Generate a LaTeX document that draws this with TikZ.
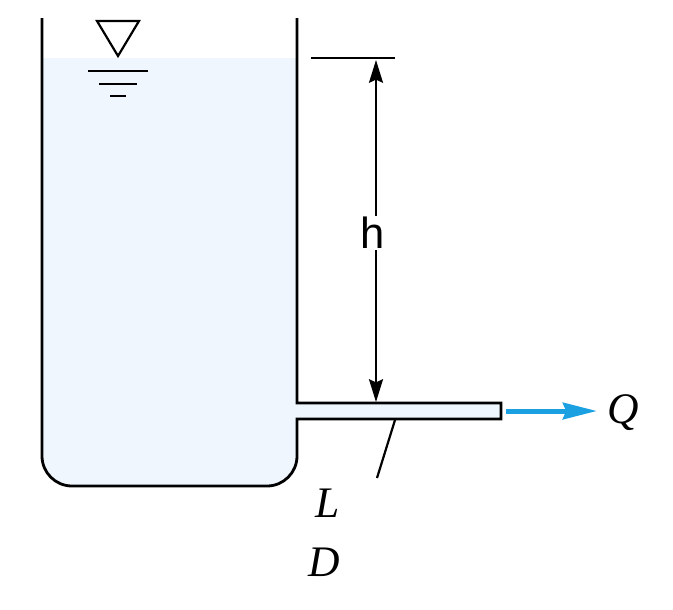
\documentclass[tikz,border=0pt]{standalone}
\usepackage{fontspec}
\setmainfont{Liberation Serif}
\setsansfont{Liberation Sans}
\usetikzlibrary{arrows.meta}

\definecolor{waterfill}{HTML}{EFF6FD}
\definecolor{flowblue}{HTML}{1BA1E2}

\tikzset{
	wall/.style = {line width=0.7mm, line join=miter},
	thin line/.style = {line width=0.55mm},
	dim arrow/.style = {line width=0.5mm, {Stealth[length=5.7mm, width=3.5mm, inset=0.8mm]}-{Stealth[length=5.7mm, width=3.5mm, inset=0.8mm]}},
	flow arrow/.style = {draw=flowblue, line width=1.25mm, -{Stealth[length=8.5mm, width=4.1mm, inset=0.8mm]}},
	var label/.style = {font=\fontsize{31}{31}\selectfont\itshape, inner sep=0pt}
}

\begin{document}
\begin{tikzpicture}[x=0.25mm, y=-0.25mm]
		\useasboundingbox (0, 0) rectangle (673, 609);
		
		% water
		\fill[waterfill] (42, 58) -- (42, 456) arc[start angle=180, end angle=90, radius=30] -- (267, 486) arc[start angle=90, end angle=0, radius=30] -- (297, 419) -- (501, 419) -- (501, 403) -- (297, 403) -- (297, 58) -- cycle;
		
		% tank and pipe
		\draw[wall] (42, 18) -- (42, 456) arc[start angle=180, end angle=90, radius=30] -- (267, 486) arc[start angle=90, end angle=0, radius=30] -- (297, 419) -- (501, 419) -- (501, 403) -- (297, 403) -- (297, 18);
		
		% free surface
		\draw[thin line, line join=miter] (97, 21) -- (139, 21) -- (118, 56) -- cycle;
		\draw[thin line] (88, 71) -- (148, 71);
		\draw[thin line] (99, 84) -- (137, 84);
		\draw[thin line] (110, 96) -- (126, 96);
		
		% head
		\coordinate (surfl) at (311, 58);
		\coordinate (surfr) at (395, 58);
		\coordinate (headtop) at (376, 60);
		\coordinate (headbot) at (376, 402);
		\draw[thin line] (surfl) -- (surfr);
		\draw[dim arrow] (headtop) -- (headbot);
		\node[fill=white, inner sep=1pt, font=\fontsize{31}{31}\selectfont\sffamily] (h) at (373, 233) {h};
		
		% pipe label
		\coordinate (pipemark) at (395, 420);
		\coordinate (markend) at (377, 478);
		\draw[thin line] (pipemark) -- (markend);
		\node[var label] (L) at (328, 503) {L};
		\node[var label] (D) at (324, 562) {D};
		
		% outflow
		\coordinate (flowstart) at (506, 411);
		\coordinate (flowend) at (597, 411);
		\node[var label] (Q) at (623, 413) {Q};
		\draw[flow arrow] (flowstart) -- (flowend);
	\end{tikzpicture}
\end{document}
